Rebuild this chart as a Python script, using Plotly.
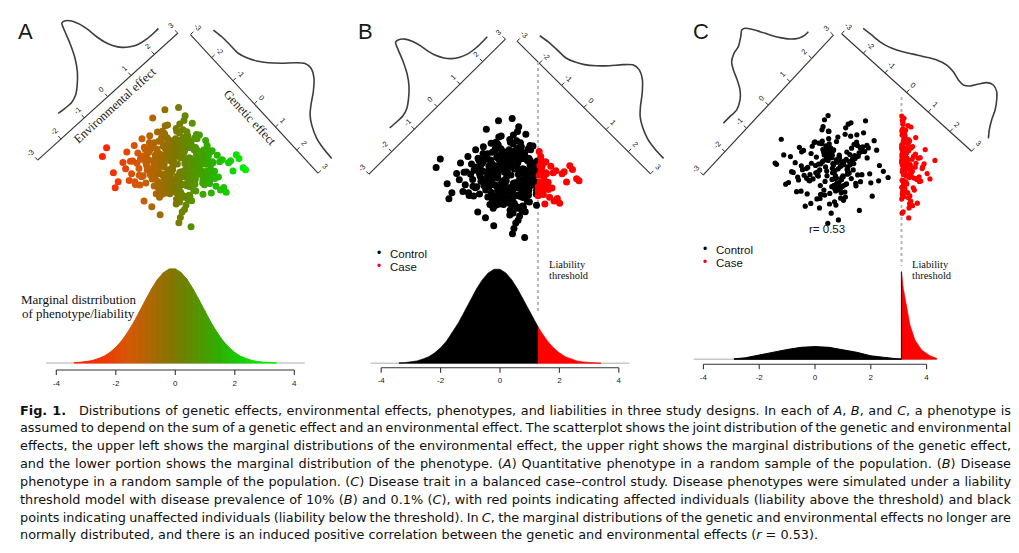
import json
import numpy as np
import plotly.graph_objects as go
from plotly.colors import sample_colorscale

W, H = 1019, 553
PANEL_BOTTOM = 390  # px, bottom of the drawing area (caption below)

# ------------------------------------------------------------------ data
bottom_ticks = [-4, -2, 0, 2, 4]
effect_ticks = [-3, -2, -1, 0, 1, 2, 3]
threshold_b = 1.28
threshold_c = 3.10

# marginal distribution of phenotype / liability (panels A and B)
liab_x_ab = [-3.4, -3.2, -3.0, -2.8, -2.6, -2.4, -2.2, -2.0, -1.8, -1.6, -1.4, -1.2,
             -1.0, -0.8, -0.6, -0.4, -0.2, 0.0, 0.2, 0.4, 0.6, 0.8, 1.0, 1.2,
             1.4, 1.6, 1.8, 2.0, 2.2, 2.4, 2.6, 2.8, 3.0, 3.2, 3.4]
liab_dens_ab = [0.002, 0.003, 0.006, 0.010, 0.018, 0.028, 0.044, 0.066, 0.094, 0.130, 0.171, 0.218,
                0.266, 0.312, 0.352, 0.381, 0.397, 0.397, 0.381, 0.352, 0.312, 0.266, 0.218, 0.171,
                0.130, 0.094, 0.066, 0.044, 0.028, 0.018, 0.010, 0.006, 0.003, 0.002, 0.001]

# panel C: controls and cases
liab_x_c_control = [-2.9, -2.5, -2.0, -1.5, -1.0, -0.5, 0.0, 0.5, 1.0, 1.5, 2.0, 2.5, 2.9, 3.1]
liab_dens_c_control = [0.005, 0.015, 0.043, 0.072, 0.098, 0.120, 0.127, 0.120, 0.098, 0.070, 0.035, 0.015, 0.006, 0.004]
liab_x_c_case = [3.10, 3.165, 3.287, 3.405, 3.584, 3.824, 4.122, 4.362]
liab_dens_c_case = [0.876, 0.710, 0.510, 0.343, 0.193, 0.093, 0.036, 0.010]

# rotated marginal curves: position along the effect axis, height
env_t_ab = [-1.52, -1.25, -0.97, -0.72, -0.47, -0.18, 0.05, 0.25, 0.38, 0.49, 0.60, 0.77,
            0.89, 0.97, 1.02, 1.10, 1.22, 1.38, 1.59, 1.84, 2.15, 2.50, 2.65]
env_h_ab = [0.209, 0.201, 0.200, 0.228, 0.291, 0.389, 0.504, 0.649, 0.768, 0.853, 0.852, 0.803,
            0.722, 0.624, 0.518, 0.421, 0.340, 0.272, 0.220, 0.182, 0.165, 0.163, 0.166]
gen_t_ab = [-2.61, -2.27, -1.90, -1.53, -1.24, -0.95, -0.66, -0.36, -0.08, 0.15, 0.39, 0.69,
            0.99, 1.25, 1.47, 1.74, 2.16, 2.53, 2.95]
gen_h_ab = [0.199, 0.216, 0.221, 0.225, 0.257, 0.309, 0.382, 0.477, 0.579, 0.648, 0.659, 0.613,
            0.517, 0.410, 0.335, 0.280, 0.226, 0.207, 0.201]
env_t_c = [-1.38, -1.09, -0.79, -0.49, -0.26, -0.09, 0.06, 0.21, 0.46, 0.70, 0.98, 1.16,
           1.27, 1.39, 1.51, 1.65, 1.80, 1.98, 2.18, 2.39, 2.54]
env_h_c = [0.206, 0.202, 0.198, 0.242, 0.310, 0.398, 0.495, 0.563, 0.604, 0.617, 0.667, 0.706,
           0.693, 0.637, 0.560, 0.464, 0.373, 0.290, 0.234, 0.208, 0.206]
gen_t_c = [-2.58, -2.21, -1.84, -1.52, -1.23, -0.91, -0.61, -0.30, 0.02, 0.39, 0.71, 1.03,
           1.27, 1.46, 1.63, 1.81, 2.03, 2.27, 2.46, 2.65, 2.79, 2.96, 3.13]
gen_h_c = [0.185, 0.192, 0.198, 0.217, 0.249, 0.296, 0.346, 0.396, 0.443, 0.473, 0.467, 0.439,
           0.436, 0.473, 0.544, 0.610, 0.637, 0.610, 0.548, 0.463, 0.366, 0.276, 0.208]

# scatter (A and B): liability (horizontal) and vertical spread
scatter_x_ab = [
    -0.12, 0.45, -0.83, 1.21, 0.07, -0.39, 0.66, -1.47, 0.28, -0.05,
    0.92, -0.61, 0.15, -0.22, 1.63, -1.05, 0.38, 0.01, -0.74, 0.54,
    -0.31, 1.08, -1.92, 0.23, 0.71, -0.48, -0.09, 1.37, -0.66, 0.33,
    0.12, -1.21, 0.84, -0.27, 0.49, 2.05, -0.95, 0.18, -0.42, 0.61,
    -1.63, 0.03, 0.97, -0.57, 0.26, -0.14, 1.52, -0.79, 0.41, -0.33,
    0.74, -0.06, -1.12, 0.56, -0.51, 1.14, 0.09, -2.31, 0.35, -0.18,
    1.86, -0.88, 0.21, 0.63, -0.36, -0.97, 0.48, 1.02, -0.25, 0.14,
    -0.68, 0.32, -1.38, 0.88, -0.02, 0.57, -0.45, 1.29, -1.01, 0.19,
    0.42, -0.16, 0.79, -0.72, 2.28, -0.29, 0.11, -1.76, 0.67, -0.53,
    0.24, 1.45, -0.41, -0.08, 0.95, -1.29, 0.36, -0.63, 1.18, 0.05,
    -0.94, 0.52, -0.19, 1.71, -0.56, 0.29, -1.55, 0.83, 0.02, -0.37,
    0.68, -1.08, 0.44, -0.24, 1.26, -0.71, 0.16, 0.89, -2.08, 0.31,
    -0.47, 0.13, 1.04, -0.86, 0.58, -0.11, 1.94, -0.64, 0.27, -1.17,
    0.39, -0.34, 0.76, -1.43, 0.06, 1.33, -0.53, 0.47, -0.81, 0.22,
    1.11, -0.21, -0.99, 0.61, -0.43, 0.17, 1.58, -1.26, 0.34, -0.04,
    -0.58, 0.86, -0.28, 0.51, -1.67, 0.73, 0.04, -0.76, 1.41, -0.15,
    0.26, -1.34, 0.99, -0.49, 0.12, 2.14, -0.87, 0.43, -0.23, 0.69,
    -1.02, 0.37, -0.13, 1.16, -0.62, 0.08, 0.81, -1.51, 0.55, -0.32,
    0.93, -0.69, 0.19, -2.02, 0.64, -0.26, 1.24, -0.44, 0.10, 1.79,
    -0.79, 0.46, -0.07, 0.72, -1.19, 0.25, -0.52, 1.07, -0.35, 0.59,
    0.03, -0.91, 1.49, -0.17, 0.36, -1.36, 0.78, -0.60, 0.20, -2.45,
    0.87, -0.30, 0.53, -0.84, 1.32, 0.00, -1.09, 0.62, -0.46, 2.36,
    0.15, -0.42, 0.63, -0.08, 0.37, -0.71, 0.24, 0.89, -0.33, 0.05,
    -0.56, 0.48, -0.19, 0.72, 0.02, -0.87, 0.31, 0.56, -0.25, 0.11,
    0.83, -0.47, 0.19, -0.62, 0.41, 0.97, -0.14, 0.27, -0.79, 0.66,
    -0.03, 0.52, -0.38, 0.09, 1.02, -0.66, 0.35, -0.21, 0.77, -0.51,
    0.44, -0.11, 0.61, -0.93, 0.22, 0.07, -0.45, 0.85, -0.29, 0.58,
    -0.74, 0.13, 0.94, -0.16, 0.38, -0.59, 0.69, 0.01, -0.36, 0.29,
    -0.95, 0.18, 0.74, -0.31, 1.12, -0.58, 0.42, -0.13, 0.88, -1.04,
    0.27, -0.67, 0.53, 1.21, -0.22, 0.06, -0.84, 0.65, -0.46, 0.99,
    -0.09, 0.36, -1.15, 0.79, -0.35, 0.14, 1.05, -0.72, 0.47, -0.18,
    0.61, -0.99, 0.23, -0.54, 1.17, 0.04, -0.28, 0.86, -0.63, 0.31,
    -1.22, 0.52, -0.06, 0.93, -0.41, 0.19, -0.78, 0.71, 1.25, -0.24,
    0.08, -0.51, 0.39, -0.89, 0.67, -0.15, 1.09, -0.37, 0.28, -1.08,
    0.82, -0.03, -0.65, 0.45, -0.27, 1.14, -0.92, 0.12, 0.57, -0.44,
    0.34, -0.19, 0.98, -0.70, 0.21, -0.56, 0.76, -1.13, 0.01, 0.49]
scatter_y_ab = [
    0.35, 0.62, -0.18, -0.91, 0.07, 1.12, -0.44, -0.26, 0.83, 0.15,
    -0.57, -0.09, 1.41, 0.31, -0.72, -1.18, 0.24, 0.49, -0.36, -0.02,
    0.66, 0.19, -0.53, -1.55, 0.41, 0.87, -0.13, -0.68, 0.28, 1.69,
    -0.84, -0.31, 0.11, 0.95, -1.02, 0.38, 0.57, -0.22, -0.63, 0.04,
    0.47, 1.26, -0.39, -0.05, 0.73, 0.16, -0.81, -1.37, 0.22, 0.58,
    -0.29, -0.76, 0.92, 0.14, -1.64, -0.47, 0.33, 0.61, -0.11, -0.93,
    0.18, 0.52, -0.27, -0.49, 1.08, 0.03, -0.58, 0.86, 0.44, -1.21,
    -0.41, 0.08, 0.69, -0.16, 0.37, 1.44, -0.95, -0.33, 0.56, 0.27,
    -1.09, -0.22, 0.31, 0.78, -0.06, -0.61, 1.97, 0.12, -0.45, 0.39,
    0.91, -0.37, -0.74, 0.26, 0.54, 0.09, -1.31, -0.18, 0.02, 1.17,
    -0.14, 0.71, 0.43, -0.88, -0.26, 1.53, -0.49, 0.35, -0.79, -0.04,
    0.62, 0.29, -1.12, -0.35, 0.11, -0.67, 0.84, 0.47, -0.23, -1.46,
    0.05, -0.52, 0.38, 1.02, -0.31, 0.76, -0.17, -0.93, 0.59, 0.24,
    -0.66, 1.35, -0.08, 0.17, 0.49, -0.42, -1.05, 0.28, 0.73, -0.19,
    0.33, -0.14, -0.57, 0.64, 0.96, -1.73, 0.21, 0.44, -0.38, 0.81,
    -0.71, 0.13, 0.58, -0.27, -0.09, 0.92, -0.48, 1.61, 0.36, -0.55,
    1.22, -0.62, -0.33, 0.07, -1.91, 0.25, 0.79, -0.12, 0.46, -0.84,
    0.27, 0.98, -0.21, -0.59, 0.42, -0.36, 1.04, 0.16, -1.17, 0.63,
    -0.45, 0.19, 0.86, -0.73, -0.02, 1.38, 0.51, -0.29, -0.97, 0.11,
    0.74, -0.98, 0.02, 0.55, -0.64, 0.31, -0.24, 0.69, 1.89, -0.41,
    -1.28, 0.46, 0.14, -0.39, 0.88, -0.53, -0.07, 1.14, -0.61, 0.32,
    0.09, -0.26, -2.04, 0.57, -0.18, 0.66, 0.34, -0.82, 0.95, -0.13,
    -0.21, 0.37, 0.55, -0.48, 0.12, -0.06, -0.63, 0.29, 0.71, -0.35,
    0.44, -0.27, 0.86, 0.08, -0.72, 0.19, 0.51, -0.14, -0.55, 0.66,
    0.03, -0.81, 0.34, 0.57, -0.39, 0.16, -0.09, 0.78, -0.22, -0.61,
    0.48, 0.25, -0.44, -0.67, 0.06, 0.39, 0.82, -0.31, -0.12, 0.13,
    -0.58, 0.69, 0.21, -0.05, -0.36, 0.53, -0.76, 0.41, 0.28, -0.19,
    0.62, -0.43, -0.25, 0.35, 0.74, -0.52, 0.09, -0.88, 0.17, 0.46,
    0.41, -0.88, 0.17, 0.69, -0.32, -0.05, 1.02, -0.57, 0.28, 0.63,
    -1.05, 0.35, 0.82, -0.14, -0.73, 0.51, -0.29, 0.94, 0.08, -0.46,
    0.72, -0.61, 0.23, 0.38, -0.92, 1.11, -0.18, 0.03, -0.69, 0.57,
    -0.37, 0.12, 0.88, -0.81, 0.46, -1.12, 0.64, -0.25, 0.19, 0.97,
    -0.08, -0.53, 0.31, -0.95, 0.66, -0.21, -0.44, 1.06, 0.14, 0.79,
    -0.67, 0.26, 1.15, 0.47, -0.16, -0.84, 0.55, 0.09, -1.01, -0.33,
    0.37, 0.86, -0.12, -0.59, 0.74, -0.40, 0.22, -0.77, 0.61, 1.17,
    -0.26, 0.50, -0.63, 0.13, -0.97, 0.83, 0.04, -0.36, 0.92, -0.48]

# scatter (C): controls
scatter_x_c_control = [
    0.55, 1.31, -0.18, 0.92, 0.21, 1.67, 0.74, -0.62, 1.08, 0.38,
    0.86, 0.03, 1.49, 0.62, -0.35, 1.15, 0.47, 2.21, 0.69, -0.07,
    1.24, 0.29, 0.81, -0.84, 1.58, 0.51, 0.12, 1.02, 0.66, 1.87,
    -0.28, 0.95, 0.44, 1.36, 0.17, 0.78, -1.21, 1.12, 0.58, 0.33,
    1.73, 0.09, 0.71, 1.28, -0.49, 0.89, 0.41, 2.45, 0.26, 1.05,
    0.63, -0.14, 1.44, 0.52, 0.98, -0.71, 1.19, 0.36, 0.83, 1.62,
    0.14, 0.77, -1.05, 1.33, 0.48, 0.91, 0.22, 1.96, 0.57, -0.41,
    1.09, 0.68, 0.31, 1.52, -0.22, 0.84, 1.26, 0.05, 0.73, 2.12,
    0.40, -0.56, 1.17, 0.60, 1.81, 0.27, 0.96, -0.95, 1.39, 0.70,
    0.19, 1.55, 0.82, -0.31, 1.07, 0.45, 2.31, 0.61, -0.10, 1.21,
    0.87, 0.35, 1.68, -1.38, 0.54, 1.01, 0.16, 1.40, 0.79, -0.48,
    1.30, 0.64, 0.00, 1.13, 0.42, 1.91, -0.66, 0.76, 0.25, 1.47,
    0.93, -0.19, 0.59, 1.74, 0.32, 1.16, -0.88, 0.67, 2.05, 0.11,
    0.49, 1.35, 0.80, -0.39, 1.03, 0.24, 1.59, 0.72, -1.12, 0.97,
    1.46, 0.07, 0.88, 0.39, 1.22, -0.26, 0.65, 2.62, 0.53, 1.10,
    0.30, 1.78, -0.59, 0.90, 0.47, 1.37, 0.13, -0.03, 1.00, 0.75,
    -0.78, 1.25, 0.56, 1.63, 0.20, 0.85, -0.45, 1.50, 0.37, 0.68,
    1.86, 0.43, -0.15, 1.18, 0.60, 2.00, 0.28, 0.94, -1.43, 1.29,
    0.71, 0.02, 1.42, 0.50, -0.30, 1.06, 0.81, 1.71, 0.18, 0.62,
    1.14, -0.50, 0.34, 1.53, 0.77, -0.13, 2.28, 0.46, 1.33, 0.86]
scatter_y_c_control = [
    0.38, 0.71, -0.24, -1.08, 0.15, 0.59, -0.82, -0.33, 1.21, 0.04,
    -0.52, -0.17, 0.93, 0.46, -1.37, -0.05, 0.27, 0.64, -0.71, -0.39,
    0.22, 1.48, -0.61, -0.13, 0.54, 0.87, -0.29, -1.16, 0.11, 0.36,
    -0.93, -0.42, 0.69, 0.18, -0.07, -0.55, 1.03, 0.31, -1.62, 0.47,
    0.61, -0.26, -0.38, 1.14, 0.08, -0.79, 0.43, -0.12, 0.96, 0.25,
    -0.17, 0.52, 0.34, -1.29, -0.66, 0.19, 1.57, -0.48, -0.03, 0.73,
    0.89, -0.36, -0.58, 0.27, 1.32, 0.06, -0.94, -0.21, 0.45, 0.63,
    -1.04, -0.15, 0.57, 0.81, -0.44, -1.86, 0.12, 0.39, -0.27, 0.98,
    0.31, 0.74, -0.09, -0.67, 1.69, 0.23, -0.35, -0.52, 0.16, -1.21,
    -0.63, 0.42, 1.11, -0.02, -0.86, 0.55, 0.09, -0.41, 0.78, -0.19,
    0.46, -0.97, -0.24, 0.13, 0.67, -0.31, -1.43, 0.85, 0.21, 0.58,
    -0.38, 0.16, 0.94, -0.57, -0.11, 0.72, -0.85, 0.29, 1.37, -0.64,
    0.07, -0.46, 0.53, 1.26, -0.79, -0.22, 0.41, 0.65, -1.01, -0.14,
    1.05, 0.33, -0.69, -0.26, 0.12, 0.87, -1.52, -0.09, 0.47, 0.21,
    -0.55, -1.11, 0.36, 0.79, -0.18, 0.02, 0.62, -0.34, -0.91, 1.44,
    0.26, 0.59, -0.43, -0.76, 1.88, -0.07, 0.14, 0.91, -0.28, -1.33,
    -0.16, 0.48, 0.72, -0.49, -0.95, 0.33, -0.06, 1.19, 0.54, -0.62,
    0.81, -0.28, -1.27, 0.04, 0.37, -0.53, 0.66, -0.89, 0.18, 1.62,
    -0.74, 0.09, 0.44, 1.31, -0.37, -0.61, 0.23, 0.76, -1.09, -0.01,
    0.57, -0.83, 1.73, -0.25, 0.95, 0.17, -0.46, -1.98, 0.28, 0.39]

# scatter (C): cases
scatter_x_c_case = [
    3.15, 3.38, 3.12, 3.52, 3.21, 3.11, 3.67, 3.29, 3.14, 3.44,
    3.18, 3.26, 3.95, 3.13, 3.35, 3.22, 3.58, 3.16, 3.11, 3.41,
    3.30, 3.12, 3.74, 3.19, 3.47, 3.24, 3.13, 3.33, 4.12, 3.17,
    3.62, 3.11, 3.27, 3.40, 3.15, 3.86, 3.20, 3.12, 3.50, 3.34,
    3.14, 3.23, 3.70, 3.18, 3.31, 3.11, 3.45, 3.16, 3.56, 3.25,
    3.12, 3.39, 3.19, 4.30, 3.28, 3.13, 3.61, 3.21, 3.15, 3.36,
    3.48, 3.11, 3.24, 3.17, 3.79, 3.30, 3.13, 3.43, 3.20, 3.12,
    3.55, 3.16, 3.33, 3.22, 3.11, 3.65, 3.27, 3.14, 3.91, 3.18,
    3.37, 3.12, 3.21, 3.50, 3.15, 3.29, 3.11, 3.73, 3.24, 3.42,
    3.13, 3.32, 3.17, 3.59, 3.26, 3.12, 4.02, 3.19, 3.35, 3.14,
    3.46, 3.22, 3.11, 3.28, 3.68, 3.16, 3.39, 3.13, 3.53, 3.20,
    3.11, 3.84, 3.25, 3.14, 3.44, 3.18, 3.31, 3.12, 3.60, 3.23,
    3.17, 3.36, 3.12, 3.49, 3.21, 3.15, 3.77, 3.27, 3.13, 3.40]
scatter_y_c_case = [
    0.52, -0.34, 1.18, -0.71, 0.09, 0.83, -1.26, 0.36, -0.05, 1.47,
    -0.62, 0.21, 0.66, -0.93, 1.02, -0.18, 0.44, -1.57, 0.75, 0.13,
    -0.27, 1.31, -0.48, 0.58, 0.01, -0.85, 1.71, 0.29, -0.39, 0.92,
    0.17, -1.11, 0.71, -0.22, 1.40, 0.04, -0.67, 0.49, -1.35, 0.86,
    1.24, -0.09, 0.35, -0.55, 0.63, 1.86, -0.30, 0.12, -0.79, 0.41,
    -0.44, 0.97, -1.02, 0.27, 0.54, -0.14, 1.09, -0.60, 1.57, -1.79,
    0.31, 0.70, -0.25, 1.13, -0.47, -0.03, 0.81, -1.19, 0.46, 1.35,
    -0.36, 0.08, 1.52, -0.73, 0.24, -0.41, 0.60, -0.98, 0.15, 1.00,
    -1.43, 0.39, -0.12, 0.77, 1.66, -0.57, 0.20, -0.32, 0.93, -0.07,
    0.64, -0.88, 1.21, 0.03, -0.50, 0.45, -0.20, 1.78, -1.07, 0.33,
    -0.16, 1.06, -0.69, 0.55, -0.37, 0.87, -1.28, 0.11, 0.42, -0.58,
    0.28, -0.02, 1.36, -0.83, 0.72, -0.24, 0.06, -1.62, 0.50, 1.15,
    -0.45, 0.62, 0.19, -0.11, 1.27, -0.90, 0.37, -0.29, 0.80, -1.00]

caption_lines = [
    "<b>Fig. 1.</b>\u2003Distributions of genetic effects, environmental effects, phenotypes, and liabilities in three study designs. In each of <i>A</i>, <i>B</i>, and <i>C</i>, a phenotype is",
    "assumed to depend on the sum of a genetic effect and an environmental effect. The scatterplot shows the joint distribution of the genetic and environmental",
    "effects, the upper left shows the marginal distributions of the environmental effect, the upper right shows the marginal distributions of the genetic effect,",
    "and the lower portion shows the marginal distribution of the phenotype. (<i>A</i>) Quantitative phenotype in a random sample of the population. (<i>B</i>) Disease",
    "phenotype in a random sample of the population. (<i>C</i>) Disease trait in a balanced case\u2013control study. Disease phenotypes were simulated under a liability",
    "threshold model with disease prevalence of 10% (<i>B</i>) and 0.1% (<i>C</i>), with red points indicating affected individuals (liability above the threshold) and black",
    "points indicating unaffected individuals (liability below the threshold). In <i>C</i>, the marginal distributions of the genetic and environmental effects no longer are",
    "normally distributed, and there is an induced positive correlation between the genetic and environmental effects (<i>r</i> = 0.53).",
]

# ------------------------------------------------------------------ layout / style
panels = {
    "A": dict(ax="", x0=0, x1=340, zero=175.3, ppu=29.75, base=363.0, axis=370.0, cloud=166.0),
    "B": dict(ax="2", x0=340, x1=680, zero=500.0, ppu=29.7, base=363.3, axis=367.7, cloud=177.0),
    "C": dict(ax="3", x0=680, x1=1019, zero=815.0, ppu=27.9, base=359.3, axis=364.3, cloud=168.0),
}
B_SHIFT = 0.30
DENS_PX_AB = 237.0
DENS_PX_C = 100.0
CURVE_PX = 100.0
AXC = "#333333"
CURVE_C = "#3d3d3d"
GRAD = [[0.0, "rgb(255,35,0)"], [0.25, "rgb(210,90,5)"], [0.5, "rgb(125,120,0)"],
        [0.75, "rgb(45,175,0)"], [1.0, "rgb(0,240,0)"]]
SERIF = "Liberation Serif, Times New Roman, serif"
SANS = "Liberation Sans, Arial, sans-serif"
CAP_FONT = dict(family="DejaVu Sans", size=12.85, color="#111")
CAP_LEFT, CAP_RIGHT = 20, 1011


def to_data(p, px, py):
    px = np.asarray(px, float)
    py = np.asarray(py, float)
    return (px - p["zero"]) / p["ppu"], (p["base"] - py) / p["ppu"]


fig = go.Figure()
annots = []


def add(p, **kw):
    kw.setdefault("hoverinfo", "skip")
    kw.setdefault("showlegend", False)
    fig.add_trace(go.Scatter(xaxis="x" + p["ax"], yaxis="y" + p["ax"], **kw))


def note(p, x, y, text, **kw):
    a = dict(x=float(x), y=float(y), xref="x" + p["ax"], yref="y" + p["ax"], text=text,
             showarrow=False, xanchor="center", yanchor="middle")
    a.update(kw)
    annots.append(a)


def note_px(px, py, text, **kw):
    a = dict(x=px / W, y=1 - py / H, xref="paper", yref="paper", text=text, showarrow=False,
             xanchor="center", yanchor="middle")
    a.update(kw)
    annots.append(a)
    return len(annots) - 1


# ---------------- bottom: gray baseline + axis
for p in panels.values():
    add(p, x=[-4.35, 4.35], y=[0, 0], mode="lines", line=dict(color="#c8c8c8", width=1.5))
    ya = (p["base"] - p["axis"]) / p["ppu"]
    tl = 5 / p["ppu"]
    add(p, x=[bottom_ticks[0], bottom_ticks[-1]], y=[ya, ya], mode="lines", line=dict(color=AXC, width=1.1))
    xs, ys = [], []
    for v in bottom_ticks:
        xs += [v, v, None]
        ys += [ya, ya - tl, None]
    add(p, x=xs, y=ys, mode="lines", line=dict(color=AXC, width=1.1))
    ylab = (p["base"] - p["axis"] - 13.5) / p["ppu"]
    add(p, x=bottom_ticks, y=[ylab] * len(bottom_ticks), mode="text",
        text=[str(v) for v in bottom_ticks], textfont=dict(family=SANS, size=8, color="#222"))

# ---------------- panel A bottom density (gradient)
pA = panels["A"]
sA = DENS_PX_AB / pA["ppu"]
for i in range(len(liab_x_ab) - 1):
    xa, xb = liab_x_ab[i], liab_x_ab[i + 1]
    mid = 0.5 * (xa + xb)
    col = sample_colorscale(GRAD, [min(max((mid + 3.0) / 6.0, 0.0), 1.0)])[0]
    add(pA, x=[xa, xa, xb, xb, xa], y=[0, liab_dens_ab[i] * sA, liab_dens_ab[i + 1] * sA, 0, 0],
        mode="lines", fill="toself", fillcolor=col, line=dict(color=col, width=1.0))

# ---------------- panel B bottom density (control / case)
pB = panels["B"]
sB = DENS_PX_AB / pB["ppu"]
xb_arr = np.array(liab_x_ab)
db_arr = np.array(liab_dens_ab) * sB
h_thr = float(np.interp(threshold_b, xb_arr, db_arr))
lm = xb_arr < threshold_b
xl = list(xb_arr[lm]) + [threshold_b]
yl = list(db_arr[lm]) + [h_thr]
add(pB, x=[xl[0]] + xl + [threshold_b, xl[0]], y=[0] + yl + [0, 0], mode="lines",
    fill="toself", fillcolor="black", line=dict(color="black", width=0.6))
xr = [threshold_b] + list(xb_arr[~lm])
yr = [h_thr] + list(db_arr[~lm])
add(pB, x=[threshold_b] + xr + [xr[-1], threshold_b], y=[0] + yr + [0, 0], mode="lines",
    fill="toself", fillcolor="#ff0000", line=dict(color="#ff0000", width=0.6))

# ---------------- panel C bottom density
pC = panels["C"]
sC = DENS_PX_C / pC["ppu"]
xc = liab_x_c_control
yc = [d * sC for d in liab_dens_c_control]
add(pC, x=[xc[0]] + xc + [xc[-1], xc[0]], y=[0] + yc + [0, 0], mode="lines",
    fill="toself", fillcolor="black", line=dict(color="black", width=1))
xk = liab_x_c_case
yk = [d * sC for d in liab_dens_c_case]
add(pC, x=[xk[0]] + xk + [xk[-1], xk[0]], y=[0] + yk + [0, 0], mode="lines",
    fill="toself", fillcolor="#ff0000", line=dict(color="#ff0000", width=0.6))
add(pC, x=[xk[0], xk[0]], y=[0, yk[0]], mode="lines", line=dict(color="#222", width=1.2))

# ---------------- rotated effect axes with marginal curves
effect_axes = [
    ("A", (env_t_ab, env_h_ab), (107.7, 96.7), -42.2, 31.5, 1.0, "Environmental effect", (0.0, -11.5)),
    ("A", (gen_t_ab, gen_h_ab), (254.2, 103.85), 47.4, 31.4, 1.0, "Genetic effect", (0.25, -13.0)),
    ("B", (env_t_ab, env_h_ab), (437.2, 106.7), -44.7, 32.0, 0.88, None, None),
    ("B", (gen_t_ab, gen_h_ab), (583.8, 107.5), 44.8, 31.35, 1.0, None, None),
    ("C", (env_t_c, env_h_c), (768.35, 105.0), -47.1, 31.85, 1.0, None, None),
    ("C", (gen_t_c, gen_h_c), (906.65, 92.5), 42.1, 29.2, 1.0, None, None),
]
for key, (ct, ch), (ox, oy), ang, ppt, hs, title, tpos in effect_axes:
    p = panels[key]
    a = np.radians(ang)
    ux, uy = np.cos(a), np.sin(a)
    nx, ny = uy, -ux
    ends = np.array([effect_ticks[0], effect_ticks[-1]], float)
    X, Y = to_data(p, ox + ends * ppt * ux, oy + ends * ppt * uy)
    add(p, x=X, y=Y, mode="lines", line=dict(color=AXC, width=1.1))
    xs, ys = [], []
    for v in effect_ticks:
        bx, by = ox + v * ppt * ux, oy + v * ppt * uy
        X, Y = to_data(p, [bx, bx + 4 * nx], [by, by + 4 * ny])
        xs += list(X) + [None]
        ys += list(Y) + [None]
    add(p, x=xs, y=ys, mode="lines", line=dict(color=AXC, width=1))
    for v in effect_ticks:
        X, Y = to_data(p, ox + v * ppt * ux + 10 * nx, oy + v * ppt * uy + 10 * ny)
        note(p, X, Y, str(v), textangle=ang, font=dict(family=SANS, size=7.5, color="#222"))
    t = np.array(ct)
    h = np.array(ch) * CURVE_PX * hs
    X, Y = to_data(p, ox + t * ppt * ux + h * nx, oy + t * ppt * uy + h * ny)
    add(p, x=X, y=Y, mode="lines", line=dict(color=CURVE_C, width=1.6, shape="spline", smoothing=0.7))
    if title:
        tt, tp = tpos
        X, Y = to_data(p, ox + tt * ppt * ux + tp * nx, oy + tt * ppt * uy + tp * ny)
        note(p, X, Y, title, textangle=ang, font=dict(family=SERIF, size=12.5, color="#222"))

# ---------------- threshold dotted lines
for key, thr, py0, py1 in [("B", threshold_b, 62.0, 312.0), ("C", threshold_c, 97.0, 266.0)]:
    p = panels[key]
    _, Y = to_data(p, [0, 0], [py0, py1])
    add(p, x=[thr, thr], y=list(Y), mode="lines", line=dict(color="#b4b8bc", width=2, dash="dot"))

# ---------------- scatter clouds
cyA = (pA["base"] - pA["cloud"]) / pA["ppu"]
add(pA, x=scatter_x_ab, y=[v + cyA for v in scatter_y_ab], mode="markers",
    marker=dict(size=7, color=scatter_x_ab, colorscale=GRAD, cmin=-2.4, cmax=2.4, line=dict(width=0)))

cyB = (pB["base"] - pB["cloud"]) / pB["ppu"]
xsB = np.array(scatter_x_ab) + B_SHIFT
ysB = np.array(scatter_y_ab) + cyB
ctrl = xsB < threshold_b
add(pB, x=xsB[ctrl], y=ysB[ctrl], mode="markers", marker=dict(size=7, color="black", line=dict(width=0)))
add(pB, x=xsB[~ctrl], y=ysB[~ctrl], mode="markers", marker=dict(size=7, color="#ff0000", line=dict(width=0)))

cyC = (pC["base"] - pC["cloud"]) / pC["ppu"]
add(pC, x=scatter_x_c_control, y=[v + cyC for v in scatter_y_c_control], mode="markers",
    marker=dict(size=5.2, color="black", line=dict(width=0)))
add(pC, x=scatter_x_c_case, y=[v + cyC for v in scatter_y_c_case], mode="markers",
    marker=dict(size=5.2, color="#ff0000", line=dict(width=0)))

# ---------------- texts
for letter, px in [("A", 25.5), ("B", 365.5), ("C", 700.5)]:
    note_px(px, 32, letter, font=dict(family=SANS, size=22, color="#1a1a1a"))

note_px(78, 299, "Marginal distrribution", font=dict(family=SERIF, size=13, color="#111"))
note_px(78, 313, "of phenotype/liability", font=dict(family=SERIF, size=13, color="#111"))

for key, thr in [("B", threshold_b), ("C", threshold_c)]:
    p = panels[key]
    tx = thr + 8.5 / p["ppu"]
    for py, word in [(264, "Liability"), (275.5, "threshold")]:
        _, Y = to_data(p, 0, py)
        note(p, tx, Y, word, xanchor="left", font=dict(family=SERIF, size=10.5, color="#111"))

for (bx, by0) in [(379, 254), (705, 250)]:
    for dy, lab, col in [(0, "Control", "black"), (12.5, "Case", "#ff0000")]:
        note_px(bx, by0 + dy - 1.0, "\u2022", font=dict(family=SANS, size=12, color=col))
        note_px(bx + 9, by0 + dy, lab, xanchor="left", font=dict(family=SANS, size=11.5, color="#111"))

note_px(826.7, 228.5, "r= 0.53", font=dict(family=SANS, size=11.5, color="#111"))

# ---------------- caption (lines 1-7 justified in the browser via word-spacing)
CAP_Y0, CAP_DY = 410.0, 17.85
justify_idx = []
for i, line in enumerate(caption_lines):
    k = note_px(CAP_LEFT, CAP_Y0 + i * CAP_DY, line, xanchor="left", align="left",
                borderpad=0, borderwidth=0, font=CAP_FONT)
    if i < len(caption_lines) - 1:
        justify_idx.append(k)

# ---------------- axes
layout_axes = {}
for p in panels.values():
    s = p["ax"]
    xr_ = [(p["x0"] - p["zero"]) / p["ppu"], (p["x1"] - p["zero"]) / p["ppu"]]
    yr_ = [(p["base"] - PANEL_BOTTOM) / p["ppu"], p["base"] / p["ppu"]]
    layout_axes["xaxis" + s] = dict(domain=[p["x0"] / W, p["x1"] / W], range=xr_, visible=False,
                                    fixedrange=True, anchor="y" + s)
    layout_axes["yaxis" + s] = dict(domain=[1 - PANEL_BOTTOM / H, 1], range=yr_, visible=False,
                                    fixedrange=True, anchor="x" + s)

fig.update_layout(width=W, height=H, margin=dict(l=0, r=0, t=0, b=0),
                  paper_bgcolor="white", plot_bgcolor="white", showlegend=False,
                  annotations=annots, **layout_axes)

js = (
    "document.body.style.margin='0';document.body.style.overflow='hidden';"
    "try{var gd=document.getElementById('{plot_id}');"
    "var idx=" + json.dumps(justify_idx) + ";var target=" + str(CAP_RIGHT - CAP_LEFT) + ";"
    "idx.forEach(function(i){var g=gd.querySelector('.annotation[data-index=\"'+i+'\"]');"
    "if(!g)return;var t=g.querySelector('text');if(!t)return;"
    "var len=t.getComputedTextLength();var n=(t.textContent.match(/ /g)||[]).length;"
    "if(n>0){t.style.wordSpacing=((target-len)/n)+'px';}});}catch(e){}"
)
fig.write_html("out.html", config={"displayModeBar": False}, post_script=js)
